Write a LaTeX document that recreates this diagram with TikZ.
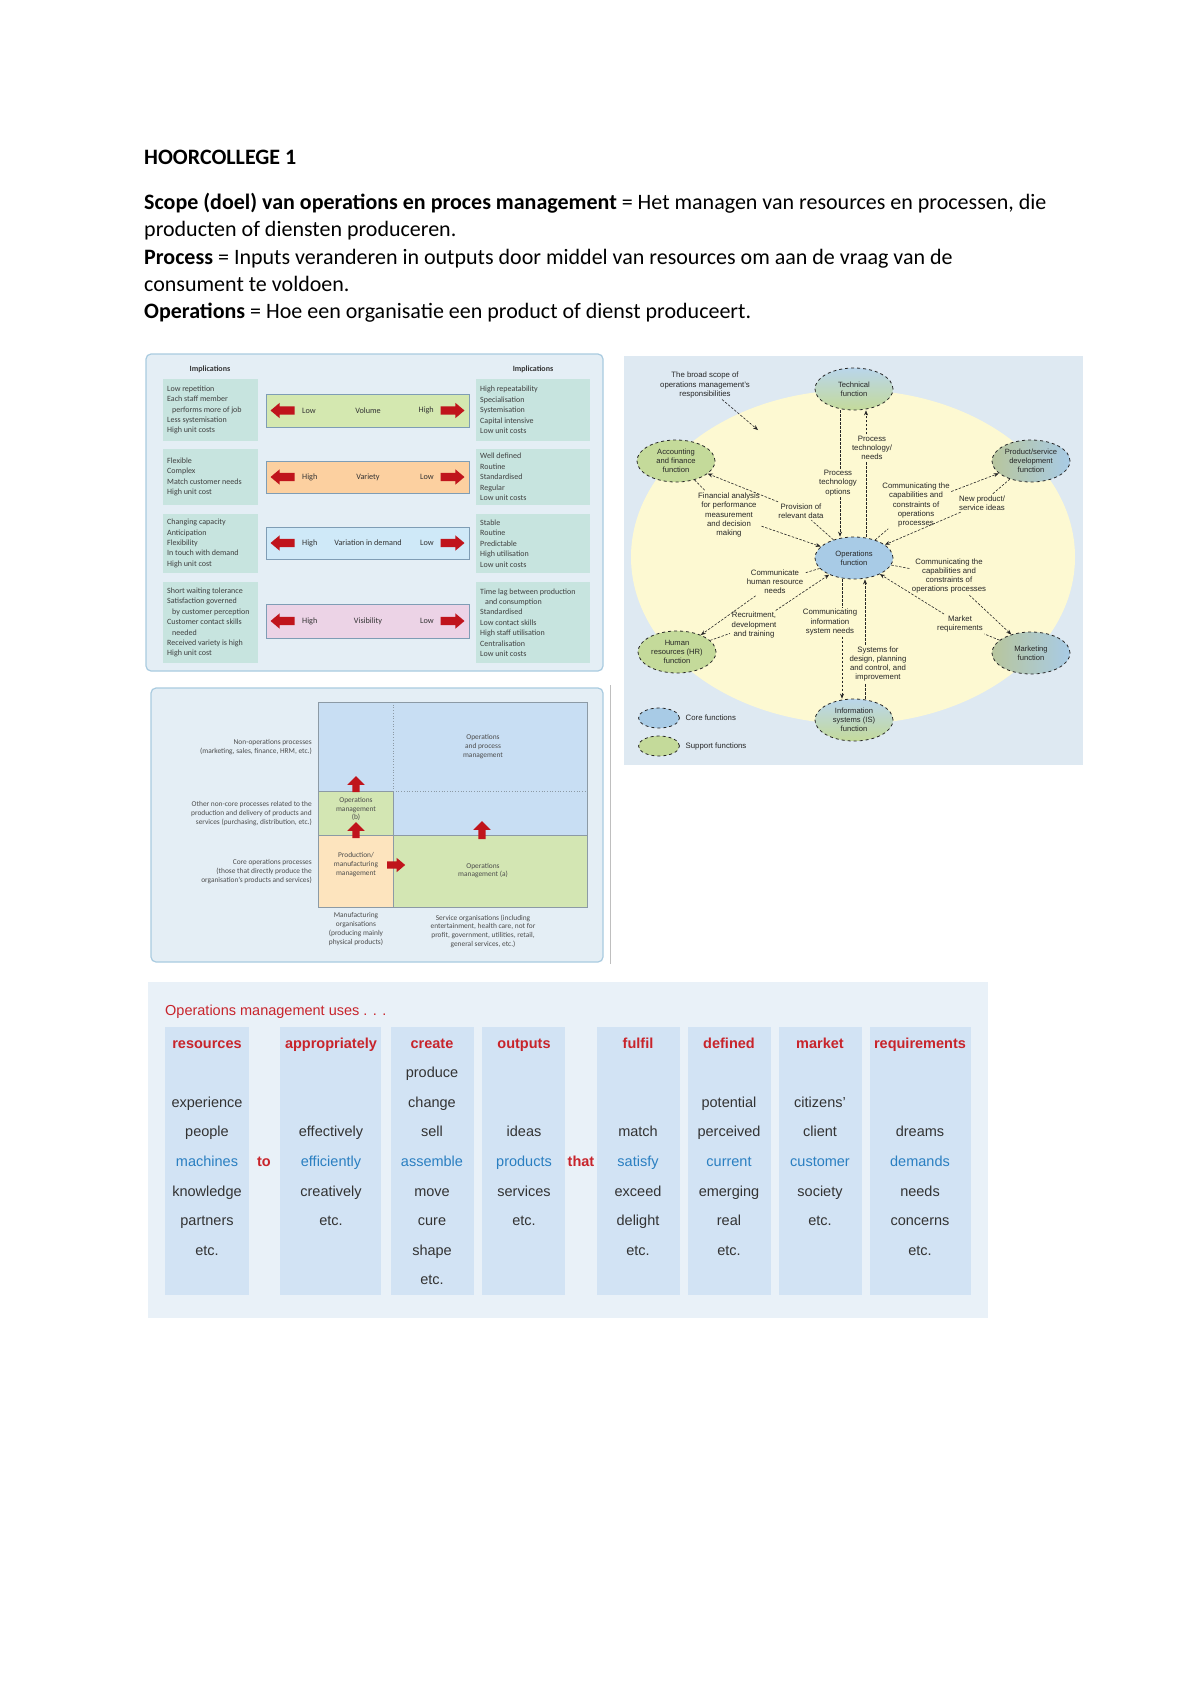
\documentclass[tikz,border=0pt]{standalone}
\usepackage{fontspec}
\setmainfont{Carlito}
\newfontfamily\arialf{Liberation Sans}
\usetikzlibrary{shapes.geometric,shapes.arrows,arrows.meta,calc}
\definecolor{arrred}{HTML}{C0141C}
\definecolor{implc}{HTML}{C7E4DF}
\definecolor{panelbg}{HTML}{E4EEF5}
\definecolor{panelbd}{HTML}{A9CBE0}
\definecolor{volc}{HTML}{D4E8B0}
\definecolor{varc}{HTML}{FCD0A0}
\definecolor{vdc}{HTML}{CFE9F8}
\definecolor{visc}{HTML}{ECD3E6}
\definecolor{barbd}{HTML}{7F9DB5}
\definecolor{cellblue}{HTML}{C8DEF3}
\definecolor{cellgreen}{HTML}{D3E6B3}
\definecolor{cellorange}{HTML}{FDE4BE}
\definecolor{gridc}{HTML}{8C9AA5}
\definecolor{cbg}{HTML}{DEE9F2}
\definecolor{cyellow}{HTML}{FDF9D2}
\definecolor{coreblue}{HTML}{A8CBE6}
\definecolor{suppgreen}{HTML}{C4DA9A}
\definecolor{tbg}{HTML}{E9F1F8}
\definecolor{tcol}{HTML}{D2E3F4}
\definecolor{tred}{HTML}{C8242B}
\definecolor{tblue}{HTML}{2A7FC1}
\definecolor{ttxt}{HTML}{333333}
\begin{document}
\begin{tikzpicture}[x=1pt,y=-1pt,
  hdr/.style={anchor=base west,inner sep=0,font=\fontsize{22}{27}\selectfont},
  impl/.style={anchor=west,align=left,inner sep=0,text=black!75,font=\fontsize{8}{10.4}\selectfont},
  imphd/.style={inner sep=0,text=black!80,font=\bfseries\fontsize{8}{10}\selectfont},
  bl/.style={inner sep=0,text=black!80,font=\fontsize{8.2}{10}\selectfont},
  arrL/.style={single arrow,fill=arrred,draw=none,inner xsep=0pt,inner ysep=4pt,minimum height=24pt,single arrow head extend=3.5pt,single arrow tip angle=80,shape border rotate=180},
  arrR/.style={arrL,shape border rotate=0},
  arrU/.style={single arrow,fill=arrred,draw=none,inner xsep=3.5pt,inner ysep=0pt,minimum height=16pt,single arrow head extend=5pt,single arrow tip angle=90,shape border rotate=90},
  ml/.style={inner sep=0,align=center,text=black!70,font=\fontsize{7.4}{8.7}\selectfont},
  mlr/.style={ml,align=right,anchor=east},
  cfunc/.style={ellipse,draw=black!85,dashed,line width=0.8pt,inner sep=0,minimum width=78pt,minimum height=42pt,align=center,text=black!85,font=\arialf\fontsize{7.6}{8.8}\selectfont},
  clbl/.style={align=center,inner sep=1.5pt,text=black!85,font=\arialf\fontsize{7.8}{9.2}\selectfont},
  conn/.style={dash pattern=on 2.5pt off 1.5pt,line width=0.6pt,black!85},
  carr/.style={conn,-{Stealth[length=5pt,width=4pt]}},
  tw/.style={inner sep=0,anchor=base,text=ttxt,font=\arialf\fontsize{14.5}{16}\selectfont},
  tb/.style={tw,text=tblue},
  th/.style={tw,text=tred,font=\arialf\bfseries\fontsize{14.5}{16}\selectfont},
  tr/.style={th}
]
\useasboundingbox (0,0) rectangle (1200,1698);
\fill[white] (0,0) rectangle (1200,1698);

% ---------- header text ----------
\node[hdr] (h0) at (144,164) {\textbf{HOORCOLLEGE 1}};
\node[hdr] (h1) at (144,209) {\textbf{Scope (doel) van operations en proces management} = Het managen van resources en processen, die};
\node[hdr] (h2) at (144,236.5) {producten of diensten produceren.};
\node[hdr] (h3) at (144,264) {\textbf{Process} = Inputs veranderen in outputs door middel van resources om aan de vraag van de};
\node[hdr] (h4) at (144,291) {consument te voldoen.};
\node[hdr] (h5) at (144,318) {\textbf{Operations} = Hoe een organisatie een product of dienst produceert.};

% ---------- four V panel ----------
\draw[panelbd,fill=panelbg,line width=1.2pt,rounded corners=5pt] (146,354) rectangle (603,671);
\node[imphd] (impL) at (210,369) {Implications};
\node[imphd] (impR) at (533,369) {Implications};
\foreach \ya/\yb/\ba/\bb/\col in {379/441/394/427/volc,449/505/461/493/varc,514/573/527/559/vdc,582/663/604/638/visc}{
  \fill[implc] (163,\ya) rectangle (258,\yb);
  \fill[implc] (476,\ya) rectangle (590,\yb);
  \draw[barbd,line width=0.9pt,fill=\col] (266,\ba) rectangle (469,\bb);
}
% row 1
\node[impl] (l1) at (167,410) {Low repetition\\Each staff member\\\hspace*{5pt}performs more of job\\Less systemisation\\High unit costs};
\node[impl] (r1) at (480,410) {High repeatability\\Specialisation\\Systemisation\\Capital intensive\\Low unit costs};
\node[arrL] (al1) at (285,410.5) {};
\node[bl,anchor=west] (lo1) at (302,410.5) {Low};
\node[bl] (c1) at (368,410.5) {Volume};
\node[bl,anchor=east] (hi1) at (434,410.5) {High};
\node[arrR] (ar1) at (450,410.5) {};
% row 2
\node[impl] (l2) at (167,477) {Flexible\\Complex\\Match customer needs\\High unit cost};
\node[impl] (r2) at (480,477) {Well defined\\Routine\\Standardised\\Regular\\Low unit costs};
\node[arrL] (al2) at (285,477) {};
\node[bl,anchor=west] (lo2) at (302,477) {High};
\node[bl] (c2) at (368,477) {Variety};
\node[bl,anchor=east] (hi2) at (434,477) {Low};
\node[arrR] (ar2) at (450,477) {};
% row 3
\node[impl] (l3) at (167,543.5) {Changing capacity\\Anticipation\\Flexibility\\In touch with demand\\High unit cost};
\node[impl] (r3) at (480,543.5) {Stable\\Routine\\Predictable\\High utilisation\\Low unit costs};
\node[arrL] (al3) at (285,543) {};
\node[bl,anchor=west] (lo3) at (302,543) {High};
\node[bl] (c3) at (368,543) {Variation in demand};
\node[bl,anchor=east] (hi3) at (434,543) {Low};
\node[arrR] (ar3) at (450,543) {};
% row 4
\node[impl] (l4) at (167,622.5) {Short waiting tolerance\\Satisfaction governed\\\hspace*{5pt}by customer perception\\Customer contact skills\\\hspace*{5pt}needed\\Received variety is high\\High unit cost};
\node[impl] (r4) at (480,622.5) {Time lag between production\\\hspace*{5pt}and consumption\\Standardised\\Low contact skills\\High staff utilisation\\Centralisation\\Low unit costs};
\node[arrL] (al4) at (285,621) {};
\node[bl,anchor=west] (lo4) at (302,621) {High};
\node[bl] (c4) at (368,621) {Visibility};
\node[bl,anchor=east] (hi4) at (434,621) {Low};
\node[arrR] (ar4) at (450,621) {};

% ---------- process matrix panel ----------
\draw[panelbd,fill=panelbg,line width=1.2pt,rounded corners=5pt] (151,688) rectangle (603,962);
\draw[black!25,line width=0.6pt] (610,685) -- (610,964);
\fill[cellblue] (318,702) rectangle (587,835);
\fill[cellgreen] (318,791) rectangle (393,835);
\fill[cellorange] (318,835) rectangle (393,907);
\fill[cellgreen] (393,835) rectangle (587,907);
\draw[gridc,line width=0.7pt] (318,702) rectangle (587,907);
\draw[gridc,line width=0.7pt] (318,791) -- (393,791) (318,835) -- (587,835) (393,791) -- (393,907);
\draw[gridc,line width=0.7pt,dotted] (393,702) -- (393,791) (393,791) -- (587,791);
\node[mlr] (m1) at (312,747) {Non-operations processes\\(marketing, sales, finance, HRM, etc.)};
\node[mlr] (m2) at (312,813.5) {Other non-core processes related to the\\production and delivery of products and\\services (purchasing, distribution, etc.)};
\node[mlr] (m3) at (312,871.5) {Core operations processes\\(those that directly produce the\\organisation’s products and services)};
\node[ml] (m4) at (356,929) {Manufacturing\\organisations\\(producing mainly\\physical products)};
\node[ml] (m5) at (483,931) {Service organisations (including\\entertainment, health care, not for\\profit, government, utilities, retail,\\general services, etc.)};
\node[ml] (m6) at (483,746.5) {Operations\\and process\\management};
\node[ml] (m7) at (356,809) {Operations\\management\\(b)};
\node[ml] (m8) at (356,864.5) {Production/\\manufacturing\\management};
\node[ml] (m9) at (483,870.5) {Operations\\management (a)};
\node[arrU] (u1) at (356,786) {};
\node[arrU] (u2) at (356,832) {};
\node[arrU,minimum height=18pt] (u3) at (482,832) {};
\node[arrR,minimum height=18pt,inner ysep=3.5pt] (rr1) at (394,865) {};

% ---------- functions panel ----------
\fill[cbg] (624,356) rectangle (1083,765);
\fill[cyellow] (853,557) ellipse [x radius=222pt,y radius=167pt];
\node[cfunc,top color=coreblue!80!white,bottom color=suppgreen] (tech) at (854,389) {Technical\\function};
\node[cfunc,fill=suppgreen] (acc) at (676,461) {Accounting\\and finance\\function};
\node[cfunc,left color=suppgreen!70!gray!90,right color=coreblue] (prod) at (1031,461) {Product/service\\development\\function};
\node[cfunc,fill=coreblue] (ops) at (854,558) {Operations\\function};
\node[cfunc,fill=suppgreen] (hr) at (677,652) {Human\\resources (HR)\\function};
\node[cfunc,left color=suppgreen!70!gray!90,right color=coreblue] (mkt) at (1031,653) {Marketing\\function};
\node[cfunc,top color=coreblue!80!white,bottom color=suppgreen] (is) at (854,720) {Information\\systems (IS)\\function};
\node[cfunc,fill=coreblue,minimum width=41pt,minimum height=20pt] (lgc) at (659,718) {};
\node[cfunc,fill=suppgreen,minimum width=41pt,minimum height=20pt] (lgs) at (659,746) {};
\node[clbl,anchor=west] (lgct) at (684,718) {Core functions};
\node[clbl,anchor=west] (lgst) at (684,746) {Support functions};

\node[clbl] (lblScope) at (705,385) {The broad scope of\\operations management’s\\responsibilities};
\coordinate (scopeEnd) at (758,430);
\draw[carr] (lblScope) -- (scopeEnd);

\node[clbl] (lblPTO) at (838,483) {Process\\technology\\options};
\node[clbl] (lblPTN) at (872,448) {Process\\technology/\\needs};
\node[clbl] (lblFin) at (729,515) {Financial analysis\\for performance\\measurement\\and decision\\making};
\node[clbl] (lblProv) at (801,511) {Provision of\\relevant data};
\node[clbl] (lblCom1) at (916,505) {Communicating the\\capabilities and\\constraints of\\operations\\processes};
\node[clbl] (lblNew) at (982,503) {New product/\\service ideas};
\node[clbl] (lblCom2) at (949,576) {Communicating the\\capabilities and\\constraints of\\operations processes};
\node[clbl] (lblMkt) at (960,624) {Market\\requirements};
\node[clbl] (lblHRn) at (775,582) {Communicate\\human resource\\needs};
\node[clbl] (lblRec) at (754,625) {Recruitment,\\development\\and training};
\node[clbl] (lblISn) at (830,622) {Communicating\\information\\system needs};
\node[clbl] (lblSys) at (878,664) {Systems for\\design, planning\\and control, and\\improvement};

\coordinate (ptox) at (840,0);
\coordinate (ptnx) at (866,0);
\coordinate (isnx) at (842,0);
\coordinate (sysx) at (865,0);
\draw[conn] (ptox |- tech.south) -- (ptox |- lblPTO.north);
\draw[carr] (ptox |- lblPTO.south) -- (ptox |- ops.north);
\draw[conn] (ptnx |- ops.north) -- (ptnx |- lblPTN.south);
\draw[carr] (ptnx |- lblPTN.north) -- (ptnx |- tech.south);
\draw[conn] (acc) -- (lblFin);
\draw[carr] (lblFin) -- (ops);
\draw[conn] (ops) -- (lblProv);
\draw[carr] (lblProv) -- (acc);
\draw[conn] (ops) -- (lblCom1);
\draw[carr] (lblCom1) -- (prod);
\draw[conn] (prod) -- (lblNew);
\draw[carr] (lblNew) -- (ops);
\draw[conn] (ops) -- (lblCom2);
\draw[carr] (lblCom2) -- (mkt);
\draw[conn] (mkt) -- (lblMkt);
\draw[carr] (lblMkt) -- (ops);
\draw[conn] (ops) -- (lblHRn);
\draw[carr] (lblHRn) -- (hr);
\draw[conn] (hr) -- (lblRec);
\draw[carr] (lblRec) -- (ops);
\draw[conn] (isnx |- ops.south) -- (isnx |- lblISn.north);
\draw[carr] (isnx |- lblISn.south) -- (isnx |- is.north);
\draw[conn] (sysx |- is.north) -- (sysx |- lblSys.south);
\draw[carr] (sysx |- lblSys.north) -- (sysx |- ops.south);

% ---------- table panel ----------
\fill[tbg] (148,982) rectangle (988,1318);
\foreach \xa/\xb in {165/249,280/381,391/474,482/565,597/680,688/771,779/862,870/971}{
  \fill[tcol] (\xa,1027) rectangle (\xb,1295);
}
\node[tw,text=tred,anchor=base west] (ttitle) at (165,1015) {Operations management uses . . .};
\foreach \cx/\r/\t/\s [count=\k] in {
 207/0/resources/th,207/2/experience/tw,207/3/people/tw,207/4/machines/tb,207/5/knowledge/tw,207/6/partners/tw,207/7/etc./tw,
 264/4/to/tr,
 331/0/appropriately/th,331/3/effectively/tw,331/4/efficiently/tb,331/5/creatively/tw,331/6/etc./tw,
 432/0/create/th,432/1/produce/tw,432/2/change/tw,432/3/sell/tw,432/4/assemble/tb,432/5/move/tw,432/6/cure/tw,432/7/shape/tw,432/8/etc./tw,
 524/0/outputs/th,524/3/ideas/tw,524/4/products/tb,524/5/services/tw,524/6/etc./tw,
 581/4/that/tr,
 638/0/fulfil/th,638/3/match/tw,638/4/satisfy/tb,638/5/exceed/tw,638/6/delight/tw,638/7/etc./tw,
 729/0/defined/th,729/2/potential/tw,729/3/perceived/tw,729/4/current/tb,729/5/emerging/tw,729/6/real/tw,729/7/etc./tw,
 820/0/market/th,820/2/citizens’/tw,820/3/client/tw,820/4/customer/tb,820/5/society/tw,820/6/etc./tw,
 920/0/requirements/th,920/3/dreams/tw,920/4/demands/tb,920/5/needs/tw,920/6/concerns/tw,920/7/etc./tw}{
  \node[style=\s] (bt\k) at (\cx,1048+29.6*\r) {\t};
}
\end{tikzpicture}
\end{document}
